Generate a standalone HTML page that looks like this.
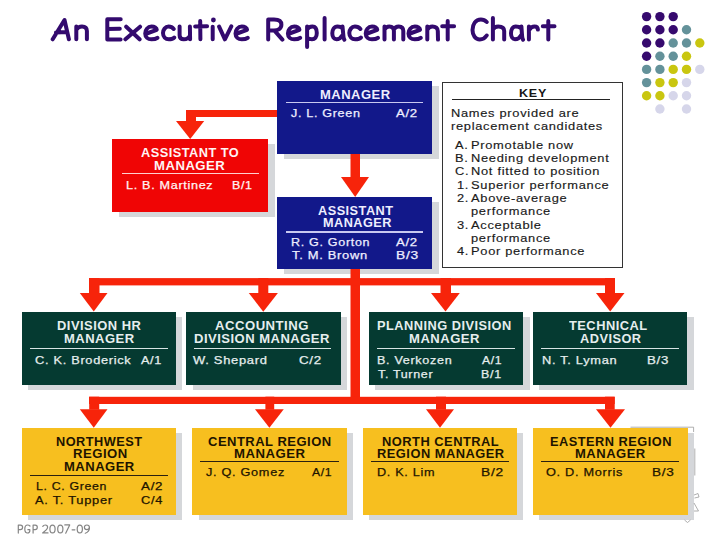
<!DOCTYPE html>
<html><head><meta charset="utf-8"><style>
html,body{margin:0;padding:0;background:#fff;width:720px;height:540px;overflow:hidden}
body{position:relative;font-family:"Liberation Sans",sans-serif}
.a{position:absolute;white-space:pre}
.sh{position:absolute;background:#d5d7da}
.h{position:absolute;white-space:pre;font-size:12px;font-weight:700;letter-spacing:0.45px;line-height:14px;transform-origin:0 50%}
.n{position:absolute;white-space:pre;font-size:11px;letter-spacing:0.6px;line-height:14px;-webkit-text-stroke:0.25px currentColor;transform-origin:0 50%}
.k{position:absolute;white-space:pre;font-size:11.7px;letter-spacing:0.64px;line-height:14px;color:#1a1a1a;-webkit-text-stroke:0.15px #1a1a1a;transform:scaleX(1.1);transform-origin:0 50%}
</style></head><body>
<div class="sh" style="left:283.5px;top:86px;width:155px;height:72.6px"></div>
<div class="sh" style="left:118.5px;top:144px;width:156px;height:73px"></div>
<div class="sh" style="left:283.5px;top:202px;width:155px;height:72px"></div>
<div class="sh" style="left:28.0px;top:316.5px;width:154.2px;height:73.2px"></div>
<div class="sh" style="left:192.5px;top:316.5px;width:154.7px;height:73.2px"></div>
<div class="sh" style="left:375.0px;top:316.5px;width:154.5px;height:73.2px"></div>
<div class="sh" style="left:539.0px;top:316.5px;width:154.7px;height:73.2px"></div>
<div class="sh" style="left:28.0px;top:432.5px;width:154.2px;height:87.4px"></div>
<div class="sh" style="left:198.6px;top:432.5px;width:154.6px;height:87.4px"></div>
<div class="sh" style="left:369.0px;top:432.5px;width:154.2px;height:87.4px"></div>
<div class="sh" style="left:539.0px;top:432.5px;width:155.2px;height:87.4px"></div>
<svg class="a" style="left:0;top:0" width="720" height="540"><g fill="#f7240a">
<rect x="186" y="110" width="91" height="7"/>
<rect x="186" y="110" width="10" height="12"/>
<polygon points="176,121 204.2,121 190.2,139"/>
<rect x="350.5" y="153" width="9.5" height="25"/>
<polygon points="341,177 369,177 355.2,197"/>
<rect x="350.5" y="269" width="9.5" height="135"/>
<rect x="89" y="278.1" width="526" height="7.3"/>
<rect x="89" y="278.1" width="10.5" height="16"/>
<polygon points="79.8,293 107.5,293 93.75,311.5"/>
<rect x="258.3" y="278.1" width="10" height="16"/>
<polygon points="248.75,293 277.9,293 263.3,311.7"/>
<rect x="440.5" y="278.1" width="10.5" height="16"/>
<polygon points="431,293 459.8,293 445.5,311.5"/>
<rect x="605" y="278.1" width="10" height="16"/>
<polygon points="596,293 624.5,293 610.2,311.5"/>
<rect x="89" y="396.8" width="525.7" height="7.2"/>
<rect x="89.2" y="396.7" width="10" height="13"/>
<polygon points="79.8,409.2 107.5,409.2 93.75,427.8"/>
<rect x="265.4" y="396.7" width="8.8" height="13"/>
<polygon points="255,409.2 283.75,409.2 269.4,427.8"/>
<rect x="436" y="396.7" width="10" height="13"/>
<polygon points="426,409.2 454,409.2 440,427.8"/>
<rect x="605" y="396.7" width="9.7" height="13"/>
<polygon points="596,409.2 625,409.2 610.5,427.8"/>
</g></svg>
<div class="a" style="left:277px;top:81px;width:155px;height:72.6px;background:#12188a;color:#eeeeff"><div class="h" style="left:42.77px;top:6.84px;transform:scaleX(1.0833)">MANAGER</div><div class="a" style="left:9.00px;top:20.50px;width:137.00px;height:1.3px;background:#c8c8f0"></div><div class="n" style="left:13.57px;top:25.29px;transform:scaleX(1.1404)">J. L. Green</div><div class="n" style="left:119.49px;top:25.29px;transform:scaleX(1.1967)">A/2</div></div>
<div class="a" style="left:112px;top:139px;width:156px;height:73px;background:#f00505;color:#fff4f4"><div class="h" style="left:29.47px;top:6.84px;transform:scaleX(1.0644)">ASSISTANT TO</div><div class="h" style="left:42.16px;top:20.34px;transform:scaleX(1.0943)">MANAGER</div><div class="a" style="left:10.00px;top:34.20px;width:137.00px;height:1.3px;background:#ffd0d0"></div><div class="n" style="left:14.17px;top:39.29px;transform:scaleX(1.1455)">L. B. Martinez</div><div class="n" style="left:119.68px;top:39.29px;transform:scaleX(1.1298)">B/1</div></div>
<div class="a" style="left:277px;top:197px;width:155px;height:72px;background:#12188a;color:#eeeeff"><div class="h" style="left:40.77px;top:6.64px;transform:scaleX(1.0605)">ASSISTANT</div><div class="h" style="left:45.59px;top:19.04px;transform:scaleX(1.0581)">MANAGER</div><div class="a" style="left:9.00px;top:34.00px;width:137.00px;height:1.8px;background:#c8c8f0"></div><div class="n" style="left:14.47px;top:37.99px;transform:scaleX(1.1394)">R. G. Gorton</div><div class="n" style="left:14.99px;top:51.19px;transform:scaleX(1.1733)">T. M. Brown</div><div class="n" style="left:119.49px;top:37.99px;transform:scaleX(1.1967)">A/2</div><div class="n" style="left:118.89px;top:51.19px;transform:scaleX(1.2558)">B/3</div></div>
<div class="a" style="left:21.5px;top:311.5px;width:154.2px;height:73.2px;background:#053a31;color:#e6eeee"><div class="h" style="left:35.37px;top:7.34px;transform:scaleX(1.0768)">DIVISION HR</div><div class="h" style="left:42.47px;top:20.74px;transform:scaleX(1.0849)">MANAGER</div><div class="a" style="left:8.30px;top:36.50px;width:138.20px;height:1.3px;background:#d8e4e4"></div><div class="n" style="left:13.61px;top:41.49px;transform:scaleX(1.1624)">C. K. Broderick</div><div class="n" style="left:119.50px;top:41.49px;transform:scaleX(1.1490)">A/1</div></div>
<div class="a" style="left:186px;top:311.5px;width:154.7px;height:73.2px;background:#053a31;color:#e6eeee"><div class="h" style="left:29.06px;top:7.34px;transform:scaleX(1.0943)">ACCOUNTING</div><div class="h" style="left:8.47px;top:20.74px;transform:scaleX(1.0857)">DIVISION MANAGER</div><div class="a" style="left:7.60px;top:36.50px;width:137.00px;height:1.3px;background:#d8e4e4"></div><div class="n" style="left:7.37px;top:41.49px;transform:scaleX(1.1766)">W. Shepard</div><div class="n" style="left:112.59px;top:41.49px;transform:scaleX(1.2066)">C/2</div></div>
<div class="a" style="left:368.5px;top:311.5px;width:154.5px;height:73.2px;background:#053a31;color:#e6eeee"><div class="h" style="left:8.48px;top:7.34px;transform:scaleX(1.0660)">PLANNING DIVISION</div><div class="h" style="left:40.36px;top:20.74px;transform:scaleX(1.0896)">MANAGER</div><div class="a" style="left:8.10px;top:36.50px;width:138.20px;height:1.3px;background:#d8e4e4"></div><div class="n" style="left:8.47px;top:41.49px;transform:scaleX(1.1434)">B. Verkozen</div><div class="n" style="left:9.00px;top:55.19px;transform:scaleX(1.1310)">T. Turner</div><div class="n" style="left:113.41px;top:41.49px;transform:scaleX(1.1021)">A/1</div><div class="n" style="left:112.88px;top:55.19px;transform:scaleX(1.1328)">B/1</div></div>
<div class="a" style="left:532.5px;top:311.5px;width:154.7px;height:73.2px;background:#053a31;color:#e6eeee"><div class="h" style="left:36.86px;top:7.34px;transform:scaleX(1.0702)">TECHNICAL</div><div class="h" style="left:47.47px;top:20.74px;transform:scaleX(1.0645)">ADVISOR</div><div class="a" style="left:8.30px;top:36.50px;width:138.20px;height:1.3px;background:#d8e4e4"></div><div class="n" style="left:9.86px;top:41.49px;transform:scaleX(1.1644)">N. T. Lyman</div><div class="n" style="left:114.82px;top:41.49px;transform:scaleX(1.2077)">B/3</div></div>
<div class="a" style="left:21.5px;top:427.5px;width:154.2px;height:87.4px;background:#f7bf1f;color:#1e1400"><div class="h" style="left:34.68px;top:7.04px;transform:scaleX(1.0628)">NORTHWEST</div><div class="h" style="left:51.16px;top:19.54px;transform:scaleX(1.0938)">REGION</div><div class="h" style="left:42.86px;top:32.54px;transform:scaleX(1.0864)">MANAGER</div><div class="a" style="left:8.80px;top:47.20px;width:137.70px;height:1.5px;background:#2a2010"></div><div class="n" style="left:14.09px;top:51.59px;transform:scaleX(1.1189)">L. C. Green</div><div class="n" style="left:13.89px;top:65.09px;transform:scaleX(1.1731)">A. T. Tupper</div><div class="n" style="left:119.48px;top:51.59px;transform:scaleX(1.2143)">A/2</div><div class="n" style="left:119.21px;top:65.09px;transform:scaleX(1.1593)">C/4</div></div>
<div class="a" style="left:192.1px;top:427.5px;width:154.6px;height:87.4px;background:#f7bf1f;color:#1e1400"><div class="h" style="left:16.32px;top:7.04px;transform:scaleX(1.0835)">CENTRAL REGION</div><div class="h" style="left:42.06px;top:19.54px;transform:scaleX(1.0975)">MANAGER</div><div class="a" style="left:7.50px;top:33.30px;width:139.40px;height:1.5px;background:#2a2010"></div><div class="n" style="left:13.56px;top:37.89px;transform:scaleX(1.1554)">J. Q. Gomez</div><div class="n" style="left:119.41px;top:37.89px;transform:scaleX(1.1079)">A/1</div></div>
<div class="a" style="left:362.5px;top:427.5px;width:154.2px;height:87.4px;background:#f7bf1f;color:#1e1400"><div class="h" style="left:19.27px;top:7.04px;transform:scaleX(1.0736)">NORTH CENTRAL</div><div class="h" style="left:14.58px;top:19.54px;transform:scaleX(1.0726)">REGION MANAGER</div><div class="a" style="left:8.30px;top:33.30px;width:138.20px;height:1.5px;background:#2a2010"></div><div class="n" style="left:14.07px;top:37.89px;transform:scaleX(1.1496)">D. K. Lim</div><div class="n" style="left:118.89px;top:37.89px;transform:scaleX(1.2482)">B/2</div></div>
<div class="a" style="left:532.5px;top:427.5px;width:155.2px;height:87.4px;background:#f7bf1f;color:#1e1400"><div class="h" style="left:17.38px;top:7.04px;transform:scaleX(1.0669)">EASTERN REGION</div><div class="h" style="left:42.86px;top:19.54px;transform:scaleX(1.0864)">MANAGER</div><div class="a" style="left:8.80px;top:33.30px;width:137.70px;height:1.5px;background:#2a2010"></div><div class="n" style="left:13.67px;top:37.89px;transform:scaleX(1.1590)">O. D. Morris</div><div class="n" style="left:119.61px;top:37.89px;transform:scaleX(1.2317)">B/3</div></div>
<svg class="a" style="left:0;top:0" width="720" height="60"><path d="M52.7,39.3 L64.5,20 L68.9,39.3 M56,32.4 L67.2,31.9 M76.3,26.6 L76.3,39.3 M76.5,29.6 C78,27 80,26.4 82,26.4 C85,26.4 86.9,28 86.9,31 L86.9,39.3 M120.7,19.3 L107.3,19.3 L107.3,39.5 L120.6,39.5 M107.3,28.9 L119.8,28.7 M126.2,26.7 L139.6,39.3 M140.1,26.7 L125.4,39.3 M145.40,34.0 L156.70,29.9 C156.90,27.8 154.40,26.6 151.50,26.6 C147.60,26.6 145.20,30.00 145.20,33.4 C145.20,37.00 148.00,39.3 151.40,39.3 C154.00,39.3 156.10,38.80 157.40,37.80 M173.70,28.9 C172.40,27.3 170.70,26.6 168.60,26.6 C165.30,26.6 163.00,29.80 163.00,33.1 C163.00,36.90 165.60,39.3 168.80,39.3 C171.00,39.3 173.20,38.70 174.20,37.60 M179.6,26.6 L179.6,35.3 C179.6,38 181.3,39.3 183.8,39.3 C186.5,39.3 189.9,37.5 189.9,35 M189.9,26.6 L190.1,39.3 M200.2,21 L200.4,39.3 M195.2,26.4 L207.1,26.2 M212.7,26.8 L212.7,39.3 M219.1,26.6 L224.9,39.3 L231.3,26.4 M235.70,34.0 L247.00,29.9 C247.20,27.8 244.70,26.6 241.80,26.6 C237.90,26.6 235.50,30.00 235.50,33.4 C235.50,37.00 238.30,39.3 241.70,39.3 C244.30,39.3 246.40,38.80 247.70,37.80 M268.2,39.6 L268.2,19.6 L274,19.6 C279,19.6 281.4,21.8 281.4,24.8 C281.4,28.5 278,30.4 274,30.4 L269,30.4 M274.5,30.6 L282.4,39.6 M288.10,34.0 L299.40,29.9 C299.60,27.8 297.10,26.6 294.20,26.6 C290.30,26.6 287.90,30.00 287.90,33.4 C287.90,37.00 290.70,39.3 294.10,39.3 C296.70,39.3 298.80,38.80 300.10,37.80 M307.1,26.6 L307.1,47 M307.3,29.5 C308.5,27 310.5,26.4 312.5,26.4 C315.5,26.4 316.8,29.5 316.8,33 C316.8,37 314.8,39.3 312,39.3 C310,39.3 308.5,38.8 307.3,37.8 M324.6,18 L324.6,39.6 M342.2,28.2 C341,26.9 339.5,26.4 337.5,26.4 C334,26.4 332.3,29.8 332.3,33.3 C332.3,37 334,39.3 336.5,39.3 C339,39.3 341,37.6 342.2,35.5 M342.5,26.5 L343.3,35 C343.5,37.5 343.8,39 344.3,39.6 M360.40,28.9 C359.10,27.3 357.40,26.6 354.90,26.6 C351.60,26.6 349.30,29.80 349.30,33.1 C349.30,36.90 351.90,39.3 355.10,39.3 C357.30,39.3 359.90,38.70 360.90,37.60 M365.90,34.0 L377.20,29.9 C377.40,27.8 374.90,26.6 372.00,26.6 C368.10,26.6 365.70,30.00 365.70,33.4 C365.70,37.00 368.50,39.3 371.90,39.3 C374.50,39.3 376.60,38.80 377.90,37.80 M384.5,26.6 L384.5,39.6 M384.7,29.5 C385.8,27.2 387.5,26.4 389.3,26.4 C392,26.4 393.9,28 393.9,31 L393.9,39.6 M394,29.5 C395,27.2 397,26.4 398.8,26.4 C401.5,26.4 403.3,28 403.3,31 L403.3,39.6 M408.70,34.0 L420.00,29.9 C420.20,27.8 417.70,26.6 414.80,26.6 C410.90,26.6 408.50,30.00 408.50,33.4 C408.50,37.00 411.30,39.3 414.70,39.3 C417.30,39.3 419.40,38.80 420.70,37.80 M427.3,26.6 L427.3,39.6 M427.5,29.5 C428.7,27.2 430.5,26.4 432.5,26.4 C435.5,26.4 437.8,28 437.8,31 L438,39.6 M447.7,21 L447.7,39.6 M442.2,26.3 L454.1,26.3 M486.7,22 C485,20.2 483,19.5 480.9,19.5 C475.5,19.5 472.5,24.5 472.5,30 C472.5,35.5 475.5,39.5 479.8,39.5 C482.5,39.5 485,38 486.7,35.5 M492.9,18 L492.9,39.6 M493.1,29.5 C494.3,27 496.3,26.4 498.3,26.4 C501.8,26.4 504.2,28 504.2,31 L504.2,39.6 M520.7,28 C519.5,26.8 517.8,26.4 515.8,26.4 C512.5,26.4 511,29.8 511,33.3 C511,37 512.8,39.3 515,39.3 C517.5,39.3 519.8,37.6 520.8,35.5 M521.4,26.5 L522,35 C522.2,37.5 522.5,39 523,39.6 M528.9,26.6 L528.9,39.6 M529.4,29.8 C530.8,27.3 532.5,26.4 534.5,26.4 C536.5,26.4 537.8,27.2 537.9,29.6 M548.3,21 L548.3,39.6 M542.8,26.3 L554.5,26.3" fill="none" stroke="#330a6e" stroke-width="4.0" stroke-linecap="round" stroke-linejoin="round"/><circle cx="213.4" cy="20" r="2.4" fill="#330a6e"/></svg>
<div class="a" style="left:442px;top:82px;width:179px;height:183.5px;border:1.5px solid #333;background:#fff"></div>
<div class="a" style="left:518.5px;top:86.32px;font-size:11.2px;font-weight:700;letter-spacing:0.7px;line-height:14px;color:#151515;transform:scaleX(1.12);transform-origin:0 50%">KEY</div>
<div class="a" style="left:452px;top:99.2px;width:158px;height:1.3px;background:#222"></div>
<div class="k" style="left:451px;top:105.94px">Names provided are</div>
<div class="k" style="left:451px;top:119.04px">replacement candidates</div>
<div class="k" style="left:454.70px;top:137.69px;letter-spacing:0.6px">A.</div>
<div class="k" style="left:470.6px;top:137.69px">Promotable now</div>
<div class="k" style="left:454.70px;top:151.03px;letter-spacing:0.6px">B.</div>
<div class="k" style="left:470.6px;top:151.03px">Needing development</div>
<div class="k" style="left:454.70px;top:164.37px;letter-spacing:0.6px">C.</div>
<div class="k" style="left:470.6px;top:164.37px">Not fitted to position</div>
<div class="k" style="left:456.90px;top:177.71px;letter-spacing:0.6px">1.</div>
<div class="k" style="left:470.6px;top:177.71px">Superior performance</div>
<div class="k" style="left:456.90px;top:191.05px;letter-spacing:0.6px">2.</div>
<div class="k" style="left:470.6px;top:191.05px">Above-average</div>
<div class="k" style="left:470.6px;top:204.39px">performance</div>
<div class="k" style="left:456.90px;top:217.73px;letter-spacing:0.6px">3.</div>
<div class="k" style="left:470.6px;top:217.73px">Acceptable</div>
<div class="k" style="left:470.6px;top:231.07px">performance</div>
<div class="k" style="left:456.90px;top:244.41px;letter-spacing:0.6px">4.</div>
<div class="k" style="left:470.6px;top:244.41px">Poor performance</div>
<svg class="a" style="left:0;top:0" width="720" height="540"><g fill="none" stroke="#858585" stroke-width="1.2" stroke-linecap="round" stroke-linejoin="round"><path d="M18.3,533.1 L18.3,525.1 L20.5,525.1 C21.9,525.1 22.6,526 22.6,527.3 C22.6,528.8 21.7,529.6 20.3,529.6 L18.5,529.6 M30,526 C29.3,525.3 28.5,525 27.6,525 C25.8,525 24.8,527 24.8,529 C24.8,531.3 25.8,533 27.5,533 C28.9,533 29.8,532 29.8,530.8 L29.8,529.7 L27.9,529.7 M33.1,533.1 L33.1,525.1 L35.3,525.1 C36.7,525.1 37.3,526 37.3,527.3 C37.3,528.8 36.5,529.6 35.1,529.6 L33.3,529.6 M42.8,526.4 C43.3,525.5 44.2,525 45.3,525 C46.8,525 47.6,526 47.6,527.2 C47.6,528.8 45.5,530.8 42.6,532.9 L48,532.9 M64.8,524.9 L69.7,524.9 L65.7,533.2 M72.1,529.8 L74.9,529.8 M89.5,527.5 C89.4,530 88,532.3 85.3,533.2"/><ellipse cx="52.5" cy="529" rx="2.6" ry="3.95"/><ellipse cx="60.3" cy="529" rx="2.6" ry="3.95"/><ellipse cx="79.8" cy="529" rx="2.6" ry="3.95"/><ellipse cx="86.9" cy="527.3" rx="2.5" ry="2.3"/></g></svg>
<svg class="a" style="left:0;top:0" width="720" height="540"><g fill="none" stroke="#9a9a9a" stroke-width="0.8"><path d="M630.5 427.2 L693.6 427.2 L693.6 432"/><path d="M694.8 448.5 L694.8 475.5"/><path d="M694 495 L698 493.5 L699 497 L694.5 498"/><path d="M694 503 L698.5 511 L694 511"/><path d="M684.5 520 L687.5 522.5 L690.5 520"/></g></svg>
<svg class="a" style="left:0;top:0" width="720" height="540"><circle cx="646.60" cy="16.60" r="4.7" fill="#360a6e"/><circle cx="659.90" cy="16.60" r="4.7" fill="#360a6e"/><circle cx="673.20" cy="16.60" r="4.7" fill="#360a6e"/><circle cx="646.60" cy="29.80" r="4.7" fill="#360a6e"/><circle cx="659.90" cy="29.80" r="4.7" fill="#360a6e"/><circle cx="673.20" cy="29.80" r="4.7" fill="#360a6e"/><circle cx="686.50" cy="29.80" r="4.7" fill="#64929a"/><circle cx="646.60" cy="43.00" r="4.7" fill="#360a6e"/><circle cx="659.90" cy="43.00" r="4.7" fill="#360a6e"/><circle cx="673.20" cy="43.00" r="4.7" fill="#64929a"/><circle cx="686.50" cy="43.00" r="4.7" fill="#64929a"/><circle cx="699.80" cy="43.00" r="4.7" fill="#c9c610"/><circle cx="646.60" cy="56.20" r="4.7" fill="#360a6e"/><circle cx="659.90" cy="56.20" r="4.7" fill="#64929a"/><circle cx="673.20" cy="56.20" r="4.7" fill="#64929a"/><circle cx="686.50" cy="56.20" r="4.7" fill="#c9c610"/><circle cx="646.60" cy="69.40" r="4.7" fill="#64929a"/><circle cx="659.90" cy="69.40" r="4.7" fill="#64929a"/><circle cx="673.20" cy="69.40" r="4.7" fill="#c9c610"/><circle cx="686.50" cy="69.40" r="4.7" fill="#c9c610"/><circle cx="699.80" cy="69.40" r="4.7" fill="#d6d6ea"/><circle cx="646.60" cy="82.60" r="4.7" fill="#64929a"/><circle cx="659.90" cy="82.60" r="4.7" fill="#c9c610"/><circle cx="673.20" cy="82.60" r="4.7" fill="#c9c610"/><circle cx="686.50" cy="82.60" r="4.7" fill="#d6d6ea"/><circle cx="646.60" cy="95.80" r="4.7" fill="#c9c610"/><circle cx="659.90" cy="95.80" r="4.7" fill="#c9c610"/><circle cx="673.20" cy="95.80" r="4.7" fill="#d6d6ea"/><circle cx="686.50" cy="95.80" r="4.7" fill="#d6d6ea"/><circle cx="659.90" cy="109.00" r="4.7" fill="#d6d6ea"/><circle cx="686.50" cy="109.00" r="4.7" fill="#d6d6ea"/></svg>
</body></html>
